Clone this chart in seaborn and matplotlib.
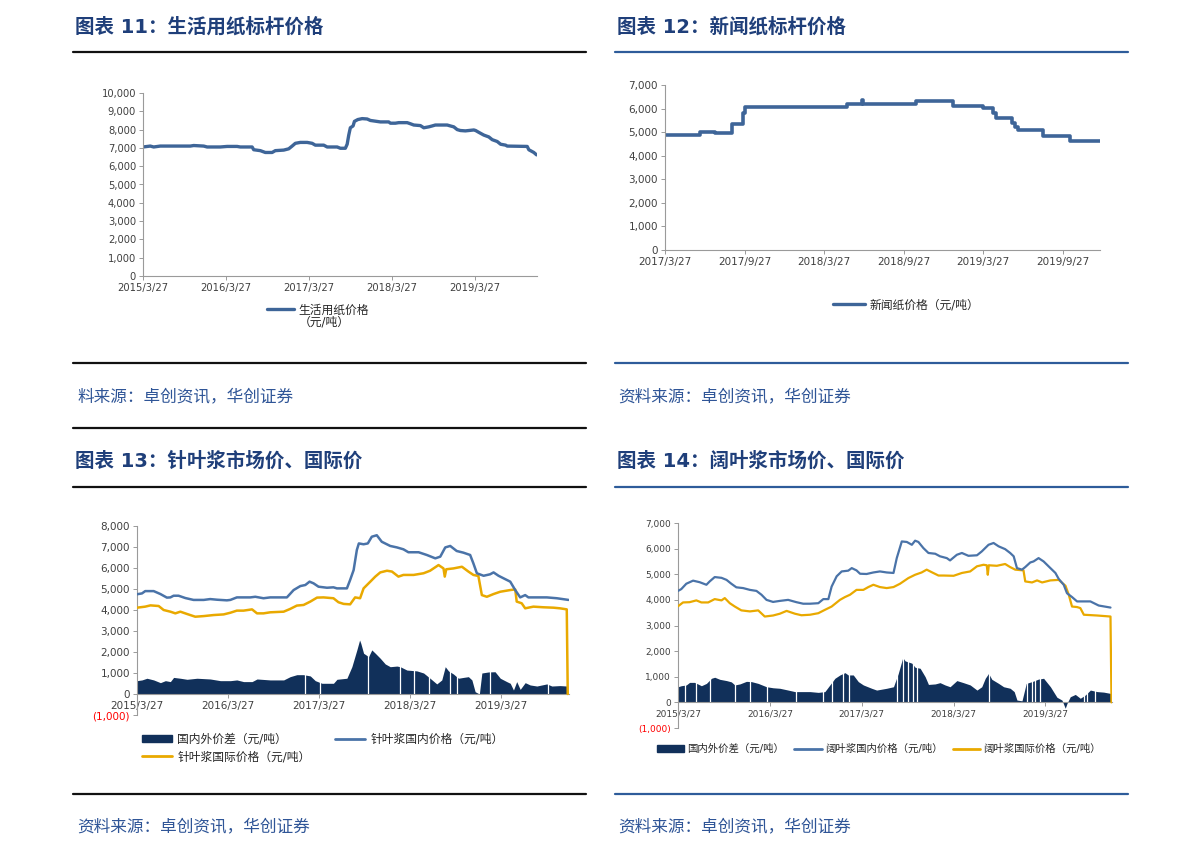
import numpy as np
import pandas as pd
import matplotlib
matplotlib.use("Agg")
import matplotlib.pyplot as plt
import seaborn as sns
from matplotlib.lines import Line2D
from matplotlib.patches import Patch
from matplotlib.ticker import FuncFormatter

# ---------------- data ----------------
# Chart 11: tissue paper benchmark price (days after 2015/3/27)
start11 = "2015-03-27"
days11 = [0, 32, 47, 76, 208, 223, 267, 282, 340, 370, 414, 428, 480, 487, 516,
          538, 568, 582, 619, 641, 656, 670, 692, 722, 744, 758, 795, 810, 854, 868,
          890, 898, 905, 912, 924, 930, 945, 964, 986, 1000, 1044, 1081, 1088, 1110, 1125,
          1162, 1176, 1191, 1220, 1235, 1257, 1272, 1286, 1338, 1352, 1367, 1382, 1396, 1418, 1433,
          1455, 1463, 1477, 1499, 1521, 1536, 1558, 1573, 1595, 1602, 1690, 1697, 1719, 1731]
tissue = [7050, 7100, 7050, 7100, 7100, 7130, 7100, 7050, 7050, 7080, 7080, 7050, 7050, 6900, 6850,
          6750, 6750, 6850, 6880, 6950, 7100, 7250, 7300, 7300, 7250, 7150, 7150, 7050, 7050, 6980,
          6980, 7200, 7700, 8100, 8200, 8450, 8550, 8600, 8580, 8500, 8420, 8420, 8350, 8350, 8380,
          8380, 8320, 8250, 8220, 8100, 8150, 8200, 8250, 8250, 8200, 8150, 8000, 7950, 7930, 7950,
          7980, 7950, 7850, 7700, 7600, 7450, 7350, 7200, 7150, 7100, 7080, 6900, 6750, 6620]
ticks11 = ["2015/3/27", "2016/3/27", "2017/3/27", "2018/3/27", "2019/3/27"]

# Chart 12: newsprint benchmark price (days after 2017/3/27, step changes)
start12 = "2017-03-27"
days12 = [0, 80, 115, 155, 180, 184, 419, 452, 455, 577, 663, 730, 755, 762, 797, 804, 812, 869, 932, 1000]
newsprint = [4870, 5000, 4960, 5350, 5800, 6060, 6210, 6350, 6210, 6300, 6120, 6010, 5800, 5620,
             5400, 5200, 5070, 4820, 4620, 4620]
ticks12 = ["2017/3/27", "2017/9/27", "2018/3/27", "2018/9/27", "2019/3/27", "2019/9/27"]

# Chart 13: softwood pulp (days after 2015/3/27)
start13 = "2015-03-27"
days13_dom = [0, 20, 33, 67, 94, 120, 134, 147, 167, 194, 227, 268, 294, 321, 361, 375, 401, 455, 475, 508,
              535, 602, 629, 656, 676, 693, 709, 729, 763, 789, 803, 843, 856, 870, 883, 891, 910, 927, 943, 963,
              983, 1017, 1044, 1070, 1090, 1131, 1164, 1198, 1218, 1238, 1258, 1284, 1311, 1338, 1351, 1365,
              1392, 1418, 1432, 1452, 1472, 1499, 1519, 1539, 1559, 1572, 1606, 1646, 1686, 1733]
sw_dom = [4750, 4790, 4900, 4900, 4760, 4590, 4600, 4680, 4680, 4570, 4480, 4480, 4520, 4490, 4460, 4480,
          4600, 4600, 4630, 4560, 4600, 4600, 4950, 5140, 5190, 5350, 5270, 5110, 5060, 5080, 5030, 5030,
          5430, 5900, 6860, 7170, 7130, 7170, 7490, 7560, 7250, 7050, 6980, 6890, 6750, 6750, 6620, 6460,
          6540, 6980, 7050, 6810, 6730, 6620, 6220, 5750, 5630, 5700, 5790, 5630, 5510, 5350, 4950, 4600,
          4710, 4600, 4600, 4600, 4560, 4480]
days13_int = [0, 33, 54, 87, 107, 134, 154, 174, 201, 234, 268, 308, 348, 375, 401, 428, 462, 482, 508, 535,
              589, 615, 642, 669, 696, 723, 749, 789, 809, 830, 856, 876, 896, 910, 937, 957, 977, 1004, 1024,
              1050, 1070, 1111, 1151, 1177, 1211, 1231, 1236, 1242, 1271, 1305, 1331, 1351, 1371, 1385, 1405,
              1432, 1459, 1499, 1519, 1525, 1545, 1559, 1592, 1632, 1673, 1699, 1726, 1730]
sw_int = [4110, 4160, 4220, 4190, 4000, 3920, 3840, 3920, 3810, 3680, 3710, 3760, 3790, 3870, 3970, 3970,
          4030, 3840, 3840, 3890, 3920, 4050, 4210, 4240, 4400, 4590, 4600, 4560, 4370, 4290, 4270, 4600,
          4560, 5030, 5350, 5590, 5790, 5870, 5830, 5590, 5670, 5670, 5750, 5870, 6140, 5980, 5590, 5940,
          5980, 6060, 5830, 5670, 5620, 4710, 4630, 4760, 4870, 4950, 4980, 4400, 4320, 4080, 4160, 4130,
          4110, 4080, 4030, 0]
days13_gap = [0, 20, 40, 67, 94, 114, 134, 147, 174, 201, 241, 294, 335, 375, 401, 428, 462, 482, 535, 589,
              615, 642, 669, 696, 716, 743, 789, 803, 843, 863, 883, 894, 899, 910, 930, 943, 957, 977, 997,
              1017, 1044, 1057, 1084, 1124, 1151, 1177, 1204, 1224, 1238, 1251, 1271, 1291, 1311, 1331, 1345,
              1358, 1375, 1385, 1412, 1438, 1459, 1485, 1499, 1512, 1525, 1539, 1559, 1579, 1606, 1646, 1666,
              1699, 1726]
sw_spread = [635, 670, 750, 670, 540, 635, 590, 790, 750, 700, 750, 715, 635, 635, 670, 590, 590, 715, 670,
             670, 825, 920, 920, 860, 635, 510, 510, 700, 750, 1300, 2100, 2570, 2410, 1940, 1780, 2100, 1940,
             1700, 1430, 1300, 1330, 1300, 1140, 1100, 1000, 750, 480, 670, 1300, 1100, 950, 750, 790, 825,
             670, 110, 0, 1000, 1050, 1060, 750, 590, 510, 190, 590, 220, 540, 430, 380, 480, 380, 400, 380]
sw_breaks = [676, 733, 927, 1057, 1111, 1171, 1258, 1284, 1416, 1652]
ticks13 = ["2015/3/27", "2016/3/27", "2017/3/27", "2018/3/27", "2019/3/27"]

# Chart 14: hardwood pulp (days after 2015/3/27)
start14 = "2015-03-27"
days14_dom = [0, 13, 33, 60, 86, 113, 126, 146, 173, 193, 212, 232, 259, 286, 312, 332, 352, 378, 405, 438,
              471, 498, 525, 558, 578, 598, 611, 631, 651, 677, 691, 710, 724, 750, 777, 803, 830, 857, 870,
              890, 910, 930, 943, 956, 976, 996, 1023, 1042, 1069, 1082, 1109, 1129, 1155, 1189, 1208, 1235,
              1255, 1275, 1301, 1321, 1335, 1348, 1368, 1381, 1401, 1414, 1434, 1454, 1481, 1501, 1514, 1534,
              1547, 1567, 1587, 1640, 1673, 1720]
hw_dom = [4350, 4420, 4630, 4750, 4690, 4590, 4720, 4890, 4860, 4780, 4630, 4490, 4460, 4390, 4350, 4200,
          4000, 3920, 3960, 4000, 3910, 3850, 3850, 3870, 4030, 4030, 4520, 4920, 5110, 5140, 5240, 5150,
          5020, 5010, 5070, 5110, 5070, 5050, 5630, 6280, 6260, 6150, 6310, 6260, 6020, 5830, 5800, 5700,
          5630, 5540, 5760, 5830, 5720, 5740, 5890, 6150, 6220, 6090, 5980, 5830, 5700, 5240, 5180, 5280,
          5460, 5500, 5630, 5500, 5240, 5050, 4820, 4590, 4260, 4110, 3940, 3940, 3780, 3700]
days14_int = [0, 20, 46, 73, 93, 120, 146, 173, 186, 206, 226, 252, 286, 319, 345, 378, 405, 432, 465, 491,
              525, 558, 584, 611, 644, 664, 684, 710, 737, 757, 777, 803, 830, 857, 883, 916, 943, 969, 989,
              1009, 1036, 1056, 1096, 1129, 1162, 1189, 1215, 1228, 1232, 1236, 1268, 1301, 1321, 1341, 1374,
              1381, 1408, 1428, 1448, 1481, 1514, 1541, 1554, 1567, 1587, 1600, 1614, 1667, 1720, 1724]
hw_int = [3750, 3900, 3910, 3980, 3900, 3900, 4030, 3980, 4070, 3870, 3740, 3590, 3550, 3590, 3350, 3390,
          3460, 3570, 3460, 3400, 3420, 3480, 3610, 3740, 4000, 4110, 4200, 4390, 4390, 4500, 4590, 4500,
          4460, 4500, 4630, 4850, 4980, 5070, 5180, 5080, 4950, 4950, 4940, 5050, 5110, 5310, 5370, 5350,
          4980, 5350, 5330, 5400, 5280, 5180, 5150, 4720, 4680, 4760, 4680, 4760, 4780, 4550, 4200, 3740,
          3720, 3680, 3420, 3390, 3350, 0]
days14_gap = [0, 13, 33, 46, 66, 93, 113, 133, 146, 166, 193, 212, 226, 246, 272, 292, 319, 352, 378, 405,
              438, 465, 491, 525, 558, 584, 604, 624, 644, 664, 677, 697, 717, 737, 770, 790, 830, 857, 876,
              894, 903, 930, 943, 963, 983, 996, 1023, 1042, 1062, 1082, 1109, 1135, 1162, 1189, 1208, 1222,
              1235, 1248, 1275, 1295, 1321, 1337, 1348, 1368, 1385, 1408, 1434, 1454, 1481, 1507, 1527, 1540,
              1547, 1560, 1580, 1600, 1620, 1640, 1667, 1693, 1720]
hw_spread = [610, 650, 680, 780, 780, 650, 740, 940, 980, 900, 850, 800, 680, 720, 820, 810, 740, 610, 570,
             550, 480, 420, 420, 420, 390, 420, 680, 940, 1070, 1160, 1070, 1070, 810, 680, 550, 480, 550, 610,
             1130, 1750, 1620, 1530, 1370, 1330, 1000, 700, 720, 770, 680, 610, 850, 770, 680, 480, 610, 940,
             1130, 900, 740, 610, 550, 420, 90, 60, 740, 810, 910, 940, 610, 200, 90, -230, -40, 220, 310, 160,
             290, 480, 420, 400, 350]
hw_breaks = [29, 70, 126, 226, 286, 352, 471, 578, 611, 657, 681, 870, 896, 916, 936, 950, 1235, 1388, 1408,
             1421, 1441, 1614, 1627, 1660]
ticks14 = ["2015/3/27", "2016/3/27", "2017/3/27", "2018/3/27", "2019/3/27"]

titles = ["图表 11：生活用纸标杆价格", "图表 12：新闻纸标杆价格",
          "图表 13：针叶浆市场价、国际价", "图表 14：阔叶浆市场价、国际价"]
src_top_left = "料来源：卓创资讯，华创证券"
src = "资料来源：卓创资讯，华创证券"
leg11 = ["生活用纸价格", "（元/吨）"]
leg12 = "新闻纸价格（元/吨）"
leg13 = ["国内外价差（元/吨）", "针叶浆国际价格（元/吨）", "针叶浆国内价格（元/吨）"]
leg14 = ["国内外价差（元/吨）", "阔叶浆国内价格（元/吨）", "阔叶浆国际价格（元/吨）"]

# ---------------- style ----------------
sns.set_theme(style="white")
plt.rcParams["font.family"] = ["DejaVu Sans", "Noto Sans CJK SC"]
plt.rcParams["axes.unicode_minus"] = False

BLUE1 = "#3E6598"
BLUE2 = "#4A73A8"
GOLD = "#E9A900"
NAVY = "#11305A"
TITLE_C = "#1F3F7A"
SRC_C = "#2F5597"
RULE_BLUE = "#2E5C9A"
TICK_C = "#404040"
SPINE_C = "#9A9A9A"

W, H = 1191, 855
fig = plt.figure(figsize=(W / 100, H / 100), dpi=100)


def fx(x):
    return x / W


def fy(y):
    return 1 - y / H


def add_ax(l, t, r, b):
    return fig.add_axes([fx(l), fy(b), (r - l) / W, (b - t) / H])


def to_dates(base, days):
    return pd.Timestamp(base) + pd.to_timedelta(days, unit="D")


def parse_ticks(labels):
    return pd.to_datetime(labels, format="%Y/%m/%d")


def fmt(v, pos=None):
    if v < 0:
        return f"({abs(v):,.0f})"
    return f"{v:,.0f}"


def style(ax, fs):
    sns.despine(ax=ax)
    for s in ["left", "bottom"]:
        ax.spines[s].set_color(SPINE_C)
        ax.spines[s].set_linewidth(0.8)
    ax.tick_params(axis="both", labelsize=fs, labelcolor=TICK_C, color=SPINE_C,
                   length=3, width=0.7, pad=2, bottom=True, left=True)
    ax.set_xlabel("")
    ax.set_ylabel("")
    ax.grid(False)
    ax.yaxis.set_major_formatter(FuncFormatter(fmt))


# ---- rules, titles, sources ----
def hrule(x0, x1, y, color):
    fig.add_artist(Line2D([fx(x0), fx(x1)], [fy(y), fy(y)], transform=fig.transFigure,
                          color=color, lw=1.6))


for y in [52, 363, 428, 487, 794]:
    hrule(73, 586, y, "#111111")
for y in [52, 363, 487, 794]:
    hrule(615, 1128, y, RULE_BLUE)

title_pos = [(75, 27), (617, 27), (75, 461), (617, 461)]
for (x, y), t in zip(title_pos, titles):
    fig.text(fx(x), fy(y), t, fontsize=14, fontweight="bold", color=TITLE_C, va="center", ha="left")

fig.text(fx(77), fy(396), src_top_left, fontsize=12, color=SRC_C, va="center", ha="left")
fig.text(fx(618), fy(396), src, fontsize=12, color=SRC_C, va="center", ha="left")
fig.text(fx(77), fy(826), src, fontsize=12, color=SRC_C, va="center", ha="left")
fig.text(fx(618), fy(826), src, fontsize=12, color=SRC_C, va="center", ha="left")

# ---- Chart 11 ----
ax1 = add_ax(143, 93, 537, 276)
d11 = to_dates(start11, days11)
sns.lineplot(x=d11, y=tissue, ax=ax1, color=BLUE1, lw=2.4, legend=False)
ax1.set_ylim(0, 10000)
ax1.set_yticks(range(0, 10001, 1000))
ax1.set_xlim(pd.Timestamp(start11), pd.Timestamp(start11) + pd.Timedelta(days=1733))
ax1.set_xticks(parse_ticks(ticks11))
ax1.set_xticklabels(ticks11)
style(ax1, 7.2)
fig.legend(handles=[Line2D([], [], color=BLUE1, lw=2.4)], labels=[leg11[0]], loc="center left",
           bbox_to_anchor=(fx(267), fy(310)), frameon=False, fontsize=8.5, handlelength=2.3,
           handletextpad=0.4, borderpad=0, borderaxespad=0)
fig.text(fx(299), fy(322), leg11[1], fontsize=8.5, color="#222222", va="center", ha="left")

# ---- Chart 12 ----
ax2 = add_ax(665, 85, 1100, 250)
d12 = to_dates(start12, days12)
sns.lineplot(x=d12, y=newsprint, ax=ax2, color=BLUE1, lw=2.6, legend=False, drawstyle="steps-post")
ax2.set_ylim(0, 7000)
ax2.set_yticks(range(0, 7001, 1000))
ax2.set_xlim(pd.Timestamp(start12), pd.Timestamp(start12) + pd.Timedelta(days=1000))
ax2.set_xticks(parse_ticks(ticks12))
ax2.set_xticklabels(ticks12)
style(ax2, 7.5)
fig.legend(handles=[Line2D([], [], color=BLUE1, lw=2.4)], labels=[leg12], loc="center left",
           bbox_to_anchor=(fx(833), fy(305)), frameon=False, fontsize=8.5, handlelength=2.7,
           handletextpad=0.4, borderpad=0, borderaxespad=0)


# ---- Chart 13 & 14 ----
def pulp(ax, start, dd, vd, di, vi, dg, vg, breaks, end_days, ymax, ticks, fs, blue, lw):
    dg_ = to_dates(start, dg)
    ax.fill_between(dg_, 0, vg, color=NAVY, lw=0, zorder=1)
    ax.vlines(to_dates(start, breaks), 0, 2800, color="white", lw=0.9, zorder=2)
    sns.lineplot(x=to_dates(start, dd), y=vd, ax=ax, color=blue, lw=lw, legend=False, zorder=4)
    sns.lineplot(x=to_dates(start, di), y=vi, ax=ax, color=GOLD, lw=lw, legend=False, zorder=3)
    ax.set_ylim(-1000, ymax)
    ax.set_yticks(range(-1000, ymax + 1, 1000))
    ax.set_xlim(pd.Timestamp(start), pd.Timestamp(start) + pd.Timedelta(days=end_days))
    ax.set_xticks(parse_ticks(ticks))
    ax.set_xticklabels(ticks)
    style(ax, fs)
    ax.spines["bottom"].set_position(("data", 0))
    ax.get_yticklabels()[0].set_color("red")


ax3 = add_ax(137, 526, 569, 715)
pulp(ax3, start13, days13_dom, sw_dom, days13_int, sw_int, days13_gap, sw_spread, sw_breaks,
     1735, 8000, ticks13, 7.5, BLUE2, 1.8)
fig.legend(handles=[Patch(color=NAVY), Line2D([], [], color=GOLD, lw=2), Line2D([], [], color=BLUE2, lw=2)],
           labels=leg13, ncol=2, loc="center left", bbox_to_anchor=(fx(142), fy(748)), frameon=False,
           fontsize=8.5, handlelength=2.5, handleheight=0.55, handletextpad=0.5, columnspacing=2.1,
           labelspacing=0.35, borderpad=0, borderaxespad=0)

ax4 = add_ax(678, 523, 1112, 728)
pulp(ax4, start14, days14_dom, hw_dom, days14_int, hw_int, days14_gap, hw_spread, hw_breaks,
     1726, 7000, ticks14, 6.5, BLUE2, 1.6)
fig.legend(handles=[Patch(color=NAVY), Line2D([], [], color=BLUE2, lw=2), Line2D([], [], color=GOLD, lw=2)],
           labels=leg14, ncol=3, loc="center left", bbox_to_anchor=(fx(657), fy(749)), frameon=False,
           fontsize=7.5, handlelength=2.6, handleheight=0.55, handletextpad=0.3, columnspacing=1.0,
           borderpad=0, borderaxespad=0)

fig.savefig("out.png", dpi=100)
